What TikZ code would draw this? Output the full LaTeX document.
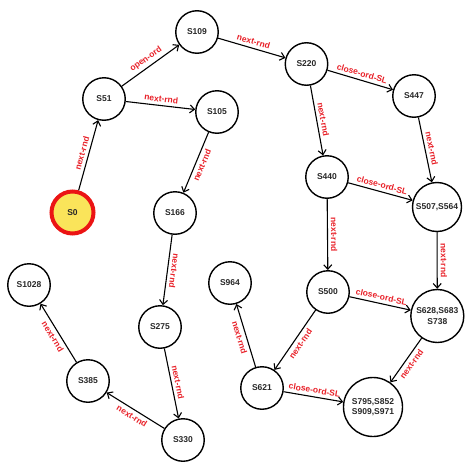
\documentclass[tikz,border=0pt]{standalone}
\usepackage{fontspec}
\setmainfont{Liberation Sans}
\usetikzlibrary{arrows.meta}
\definecolor{lab}{RGB}{232,32,40}
\definecolor{nodetext}{RGB}{40,40,40}
\definecolor{startfill}{RGB}{250,228,90}
\definecolor{startline}{RGB}{235,20,20}
\begin{document}
\begin{tikzpicture}[x=1pt,y=-1pt,
  st/.style={circle,draw,line width=1.4pt,minimum size=42.5pt,inner sep=0pt,
    font=\fontsize{8.5}{10.5}\selectfont\bfseries,text=nodetext,align=center},
  startst/.style={st,draw=startline,fill=startfill,line width=4pt,minimum size=42pt},
  ed/.style={line width=1.1pt,-{Straight Barb[length=4.5pt,width=8pt,line width=1.1pt]}},
  lb/.style={font=\fontsize{8.5}{10}\selectfont\bfseries,text=lab,sloped,inner sep=3pt}]
\useasboundingbox (0,0) rectangle (474,474);
\node[startst] (s0) at (72.5,212.5) {S0};
\node[st] (s51) at (104,99) {S51};
\node[st] (s109) at (197,32) {S109};
\node[st] (s105) at (217,112) {S105};
\node[st] (s166) at (175,213) {S166};
\node[st] (s275) at (160,327) {S275};
\node[st] (s330) at (183,440) {S330};
\node[st] (s385) at (88,381) {S385};
\node[st] (s1028) at (29,285) {S1028};
\node[st] (s220) at (306.5,64) {S220};
\node[st] (s447) at (414,96) {S447};
\node[st] (s440) at (327,177) {S440};
\node[st,minimum size=49pt] (s507) at (437,207) {S507,S564};
\node[st] (s500) at (328,292) {S500};
\node[st] (s964) at (230,283) {S964};
\node[st,minimum size=53pt] (s628) at (437.3,316) {S628,S683\\S738};
\node[st] (s621) at (262,388) {S621};
\node[st,minimum size=59pt] (s795) at (373,407) {S795,S852\\S909,S971};
\draw[ed] (s0) -- node[lb,above]{next-rnd} (s51);
\draw[ed] (s51) -- node[lb,above]{open-ord} (s109);
\draw[ed] (s51) -- node[lb,above]{next-rnd} (s105);
\draw[ed] (s109) -- node[lb,above]{next-rnd} (s220);
\draw[ed] (s105) -- node[lb,below]{next-rnd} (s166);
\draw[ed] (s166) -- node[lb,above,allow upside down]{next-rnd} (s275);
\draw[ed] (s275) -- node[lb,above]{next-rnd} (s330);
\draw[ed] (s330) -- node[lb,below]{next-rnd} (s385);
\draw[ed] (s385) -- node[lb,below]{next-rnd} (s1028);
\draw[ed] (s220) -- node[lb,above]{close-ord-SL} (s447);
\draw[ed] (s220) -- node[lb,above]{next-rnd} (s440);
\draw[ed] (s447) -- node[lb,above]{next-rnd} (s507);
\draw[ed] (s440) -- node[lb,above]{close-ord-SL} (s507);
\draw[ed] (s440) -- node[lb,above,allow upside down]{next-rnd} (s500);
\draw[ed] (s507) -- node[lb,above,allow upside down]{next-rnd} (s628);
\draw[ed] (s500) -- node[lb,above]{close-ord-SL} (s628);
\draw[ed] (s500) -- node[lb,below]{next-rnd} (s621);
\draw[ed] (s621) -- node[lb,below]{next-rnd} (s964);
\draw[ed] (s621) -- node[lb,above]{close-ord-SL} (s795);
\draw[ed] (s628) -- node[lb,below]{next-rnd} (s795);
\end{tikzpicture}
\end{document}
